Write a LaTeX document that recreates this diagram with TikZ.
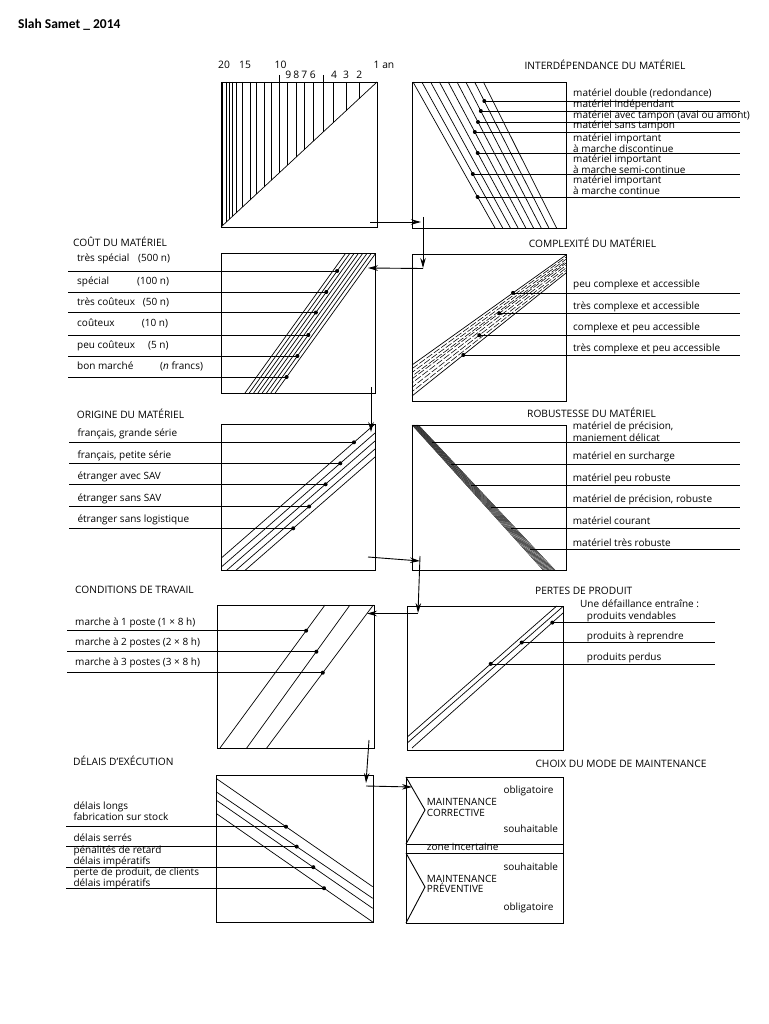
\documentclass[tikz,border=0pt]{standalone}
\usepackage{fontspec}
\setmainfont{Open Sans}
\newfontfamily\headfont{Carlito}
\usetikzlibrary{arrows.meta,calc}

\begin{document}
\begin{tikzpicture}[
    x = 1pt, y = -1pt,
    box/.style = {draw, line width = 0.9pt},
    curve/.style = {line width = 0.7pt},
    lead/.style = {line width = 0.8pt},
    title/.style = {
        font = \fontsize{10.2}{11}\selectfont,
        inner sep = 0pt
    },
    lab/.style = {
        font = \fontsize{10}{10}\selectfont,
        anchor = west,
        inner sep = 0pt,
        text height = 7.5pt,
        text depth = 2.2pt
    },
    labtwo/.style = {
        font = \fontsize{10}{10}\selectfont,
        anchor = west,
        inner sep = 0pt,
        align = left
    },
    year/.style = {
        font = \fontsize{10.3}{10}\selectfont,
        inner sep = 0pt
    },
    flow/.style = {
        -{Stealth[length = 10pt, width = 5.5pt]},
        line width = 0.9pt
    }
]
    \useasboundingbox (0,0) rectangle (768,1024);
    \fill[white] (0,0) rectangle (768,1024);

    \node[font = \headfont\bfseries\fontsize{13.5}{15}\selectfont, anchor = west, inner sep = 0pt] (auteur) at (18,25) {Slah Samet \_ 2014};

    % Duree de vie (top left)
    \draw[box] (221,82) rectangle (377,227);
    \draw[curve] (221,227) -- (377,82);
    \foreach \xx in {222.7,226.7,229.3,232.3,236,242.7,250,256.7,264,271.7,279.3,287.3,296,304.3,313.3,323,333.3,346,359}
        \draw[curve] (\xx,82) -- (\xx,{227-0.9295*(\xx-221)});
    \draw[curve] (279.3,75) -- (279.3,82);
    \draw[curve] (323,75) -- (323,82);
    \node[year] (an20) at (224,65) {20};
    \node[year] (an15) at (245,65) {15};
    \node[year] (an10) at (280.5,65) {10};
    \node[year] (an9) at (288.3,74.5) {9};
    \node[year] (an8) at (296.3,74.5) {8};
    \node[year] (an7) at (304.3,74.5) {7};
    \node[year] (an6) at (312.8,74.5) {6};
    \node[year] (an4) at (334,74.5) {4};
    \node[year] (an3) at (346,74.5) {3};
    \node[year] (an2) at (359.3,74.5) {2};
    \node[year, anchor = west] (an1) at (373.5,65) {1 an};

    % Interdependance du materiel (top right)
    \node[title] (t-inter) at (605,65) {INTERDÉPENDANCE DU MATÉRIEL};
    \draw[box] (412,82) rectangle (566,228);
    \foreach \i in {0,...,8}
        \draw[curve] ({413+8.8*\i},82) -- ({495+7.7*\i},228);
    \coordinate (interR) at (740,0);
    \coordinate (inter1) at (484.3,101);
    \coordinate (inter2) at (480.8,111);
    \coordinate (inter3) at (478,122);
    \coordinate (inter4) at (474.8,132);
    \coordinate (inter5) at (477.7,153);
    \coordinate (inter6) at (472.8,174);
    \coordinate (inter7) at (477.6,197);
    \foreach \k in {1,...,7} {
        \draw[lead] (inter\k) -- (inter\k -| interR);
        \fill (inter\k) circle (2pt);
    }
    \node[lab] (li1) at (573,94) {matériel double (redondance)};
    \node[lab] (li2) at (573,104.6) {matériel indépendant};
    \node[lab] (li3) at (573,116.3) {matériel avec tampon (aval ou amont)};
    \node[lab] (li4) at (573,126) {matériel sans tampon};
    \node[labtwo] (li5) at (573,143.3) {matériel important\\à marche discontinue};
    \node[labtwo] (li6) at (573,164) {matériel important\\à marche semi-continue};
    \node[labtwo] (li7) at (573,185) {matériel important\\à marche continue};

    % Cout du materiel (second row left)
    \node[title, anchor = west] (t-cout) at (73,241.7) {COÛT DU MATÉRIEL};
    \draw[box] (221,253) rectangle (375,393);
    \begin{scope}
        \clip (221,253) rectangle (375,393);
        \foreach \i in {0,...,7}
            \draw[curve] ({245+4.3*\i},393) -- ({345.8+4.3*\i},253);
    \end{scope}
    \coordinate (coutL) at (68,0);
    \coordinate (cout1) at (337.1,271);
    \coordinate (cout2) at (326.3,292);
    \coordinate (cout3) at (315.9,312.5);
    \coordinate (cout4) at (308.3,335);
    \coordinate (cout5) at (297.4,356);
    \coordinate (cout6) at (286.6,377);
    \foreach \k in {1,...,6} {
        \draw[lead] (cout\k) -- (cout\k -| coutL);
        \fill (cout\k) circle (2pt);
    }
    \node[lab] (lc1) at (77,259) {\makebox[61pt][l]{très spécial}(500 n)};
    \node[lab] (lc2) at (77,281.7) {\makebox[60pt][l]{spécial}(100 n)};
    \node[lab] (lc3) at (77,302.7) {\makebox[65.7pt][l]{très coûteux}(50 n)};
    \node[lab] (lc4) at (77,324.3) {\makebox[64.7pt][l]{coûteux}(10 n)};
    \node[lab] (lc5) at (77,346) {\makebox[71pt][l]{peu coûteux}(5 n)};
    \node[lab] (lc6) at (77,367.3) {\makebox[83pt][l]{bon marché}(\textit{n} francs)};

    % Complexite du materiel (second row right)
    \node[title] (t-compl) at (592.5,243) {COMPLEXITÉ DU MATÉRIEL};
    \draw[box] (412,254) rectangle (566,401);
    \draw[curve] (412,365) -- (566,255);
    \draw[curve] (412,396) -- (566,273);
    \foreach \t/\ph in {0.12/0,0.24/3,0.36/6,0.45/1,0.58/5,0.72/2,0.86/4}
        \draw[line width = 0.55pt, dash pattern = on 7pt off 2pt, dash phase = \ph pt]
            ($(412,365)!\t!(412,396)$) -- ($(566,255)!\t!(566,273)$);
    \coordinate (complR) at (740,0);
    \coordinate (compl1) at (513,292.9);
    \coordinate (compl2) at (499.3,313.3);
    \coordinate (compl3) at (479.3,335.2);
    \coordinate (compl4) at (463.3,355);
    \foreach \k in {1,...,4} {
        \draw[lead] (compl\k) -- (compl\k -| complR);
        \fill (compl\k) circle (2pt);
    }
    \node[lab] (lx1) at (573,285) {peu complexe et accessible};
    \node[lab] (lx2) at (573,306.7) {très complexe et accessible};
    \node[lab] (lx3) at (573,327.7) {complexe et peu accessible};
    \node[lab] (lx4) at (573,349.3) {très complexe et peu accessible};

    % Origine du materiel (third row left)
    \node[title, anchor = west] (t-orig) at (76.7,413.3) {ORIGINE DU MATÉRIEL};
    \draw[box] (221,424) rectangle (375,570);
    \begin{scope}
        \clip (221,424) rectangle (375,570);
        \foreach \c in {751,760,768,776,784}
            \draw[curve] (200,{\c-174.4}) -- (400,{\c-348.8});
    \end{scope}
    \coordinate (origL) at (69.3,0);
    \coordinate (orig1) at (354,442.3);
    \coordinate (orig2) at (340.3,463.3);
    \coordinate (orig3) at (325.6,484.3);
    \coordinate (orig4) at (309.1,506.5);
    \coordinate (orig5) at (293.2,528.3);
    \foreach \k in {1,...,5} {
        \draw[lead] (orig\k) -- (orig\k -| origL);
        \fill (orig\k) circle (2pt);
    }
    \node[lab] (lo1) at (77.3,434.3) {français, grande série};
    \node[lab] (lo2) at (77.3,456) {français, petite série};
    \node[lab] (lo3) at (77.3,477.3) {étranger avec SAV};
    \node[lab] (lo4) at (77.3,499) {étranger sans SAV};
    \node[lab] (lo5) at (77.3,520) {étranger sans logistique};

    % Robustesse du materiel (third row right)
    \node[title] (t-robu) at (591.5,412.3) {ROBUSTESSE DU MATÉRIEL};
    \draw[box] (412,425) rectangle (566,570);
    \foreach \t in {0,0.1,...,1.01}
        \draw[line width = 0.35pt] ($(412,425)!\t!(418.5,425)$) -- ($(543,570)!\t!(555,570)$);
    \coordinate (robuR) at (740,0);
    \coordinate (robu1) at (431.6,442.7);
    \coordinate (robu2) at (451.3,464);
    \coordinate (robu3) at (471.3,485.7);
    \coordinate (robu4) at (491.2,507.3);
    \coordinate (robu5) at (510.5,528.3);
    \coordinate (robu6) at (529.6,549);
    \foreach \k in {1,...,6}
        \draw[lead] (robu\k) -- (robu\k -| robuR);
    \node[labtwo] (lr1) at (572.7,431.7) {matériel de précision,\\maniement délicat};
    \node[lab] (lr2) at (572.7,457.3) {matériel en surcharge};
    \node[lab] (lr3) at (572.7,479) {matériel peu robuste};
    \node[lab] (lr4) at (572.7,500) {matériel de précision, robuste};
    \node[lab] (lr5) at (572.7,521.7) {matériel courant};
    \node[lab] (lr6) at (572.7,544) {matériel très robuste};

    % Conditions de travail (fourth row left)
    \node[title, anchor = west] (t-cond) at (75,590) {CONDITIONS DE TRAVAIL};
    \draw[box] (217,605) rectangle (374,748);
    \draw[curve] (220,748) -- (325,605);
    \draw[curve] (246.7,748) -- (350,605);
    \draw[curve] (266.7,748) -- (373.3,605);
    \coordinate (condL) at (67.3,0);
    \coordinate (cond1) at (306.1,630.7);
    \coordinate (cond2) at (316.4,651.7);
    \coordinate (cond3) at (322.8,672.7);
    \foreach \k in {1,...,3} {
        \draw[lead] (cond\k) -- (cond\k -| condL);
        \fill (cond\k) circle (2pt);
    }
    \node[lab] (lt1) at (75,623.3) {marche à 1 poste (1 × 8 h)};
    \node[lab] (lt2) at (75,643.3) {marche à 2 postes (2 × 8 h)};
    \node[lab] (lt3) at (75,663.3) {marche à 3 postes (3 × 8 h)};

    % Pertes de produit (fourth row right)
    \node[title] (t-pert) at (583.7,590.7) {PERTES DE PRODUIT};
    \draw[box] (407,606) rectangle (563,750);
    \draw[curve] (407.3,737) -- (556.7,606);
    \draw[curve] (407.3,743) -- (563,606.5);
    \draw[curve] (412,748) -- (563,613);
    \coordinate (pertR) at (715,0);
    \coordinate (pert1) at (552.3,622.6);
    \coordinate (pert2) at (521.7,642.5);
    \coordinate (pert3) at (490.7,663.9);
    \foreach \k in {1,...,3} {
        \draw[lead] (pert\k) -- (pert\k -| pertR);
        \fill (pert\k) circle (2pt);
    }
    \node[lab] (lp0) at (580,605) {Une défaillance entraîne :};
    \node[lab] (lp1) at (586.7,616.7) {produits vendables};
    \node[lab] (lp2) at (586.7,636.7) {produits à reprendre};
    \node[lab] (lp3) at (586.7,657.7) {produits perdus};

    % Delais d'execution (bottom row left)
    \node[title, anchor = west] (t-dela) at (73,760.7) {DÉLAIS D’EXÉCUTION};
    \draw[box] (216,775) rectangle (373,922);
    \begin{scope}
        \clip (216,775) rectangle (373,922);
        \draw[curve] (216,778.3) -- (372.7,886.7);
        \draw[curve] (216,791.7) -- (372.7,898.3);
        \draw[curve] (216,800) -- (372.7,908.3);
        \draw[curve] (216,813.3) -- (372.7,922);
    \end{scope}
    \coordinate (delaL) at (66,0);
    \coordinate (dela1) at (286,826.7);
    \coordinate (dela2) at (296.7,846.6);
    \coordinate (dela3) at (313.3,867.2);
    \coordinate (dela4) at (324,888.2);
    \foreach \k in {1,...,4} {
        \draw[lead] (dela\k) -- (dela\k -| delaL);
        \fill (dela\k) circle (2pt);
    }
    \node[labtwo] (ld1) at (73.3,810.8) {délais longs\\fabrication sur stock};
    \node[lab] (ld2) at (73.3,839.3) {délais serrés};
    \node[labtwo] (ld3) at (73.3,856.3) {pénalités de retard\\délais impératifs};
    \node[labtwo] (ld4) at (73.3,878.3) {perte de produit, de clients\\délais impératifs};

    % Choix du mode de maintenance (bottom row right)
    \node[title] (t-choix) at (621,764) {CHOIX DU MODE DE MAINTENANCE};
    \draw[box] (406,777) rectangle (563,923);
    \draw[box] (406,844) -- (563,844);
    \draw[box] (406,853) -- (563,853);
    \draw[box] (406,777) -- (425,810) -- (406,844);
    \draw[box] (406,853) -- (425,887) -- (406,923);
    \node[labtwo, font = \fontsize{10}{10.4}\selectfont] (corr) at (426.7,807.5) {MAINTENANCE\\CORRECTIVE};
    \node[labtwo, font = \fontsize{10}{10.4}\selectfont] (prev) at (426.7,884) {MAINTENANCE\\PRÉVENTIVE};
    \node[lab] (oblig1) at (503.3,790.7) {obligatoire};
    \node[lab] (souh1) at (503.3,830) {souhaitable};
    \node[lab] (zone) at (426.7,848.3) {zone incertaine};
    \node[lab] (souh2) at (503.3,868.3) {souhaitable};
    \node[lab] (oblig2) at (503.3,908.3) {obligatoire};

    % Reading path
    \coordinate (f1a) at (370,222);
    \coordinate (f1b) at (421,222);
    \coordinate (f2a) at (423,217);
    \coordinate (f2b) at (423,268);
    \coordinate (f3a) at (423,268.5);
    \coordinate (f3b) at (368,268);
    \coordinate (f4a) at (371,387);
    \coordinate (f4b) at (371,432);
    \coordinate (f5a) at (368,557);
    \coordinate (f5b) at (420,561);
    \coordinate (f6a) at (420,556);
    \coordinate (f6b) at (418,613);
    \coordinate (f7a) at (418,613.5);
    \coordinate (f7b) at (367,613.5);
    \coordinate (f8a) at (369,740);
    \coordinate (f8b) at (366,783);
    \coordinate (f9a) at (366,786);
    \coordinate (f9b) at (412,787);
    \draw[flow] (f1a) -- (f1b);
    \draw[flow] (f2a) -- (f2b);
    \draw[flow] (f3a) -- (f3b);
    \draw[flow] (f4a) -- (f4b);
    \draw[flow] (f5a) -- (f5b);
    \draw[flow] (f6a) -- (f6b);
    \draw[flow] (f7a) -- (f7b);
    \draw[flow] (f8a) -- (f8b);
    \draw[flow] (f9a) -- (f9b);

\end{tikzpicture}
\end{document}
